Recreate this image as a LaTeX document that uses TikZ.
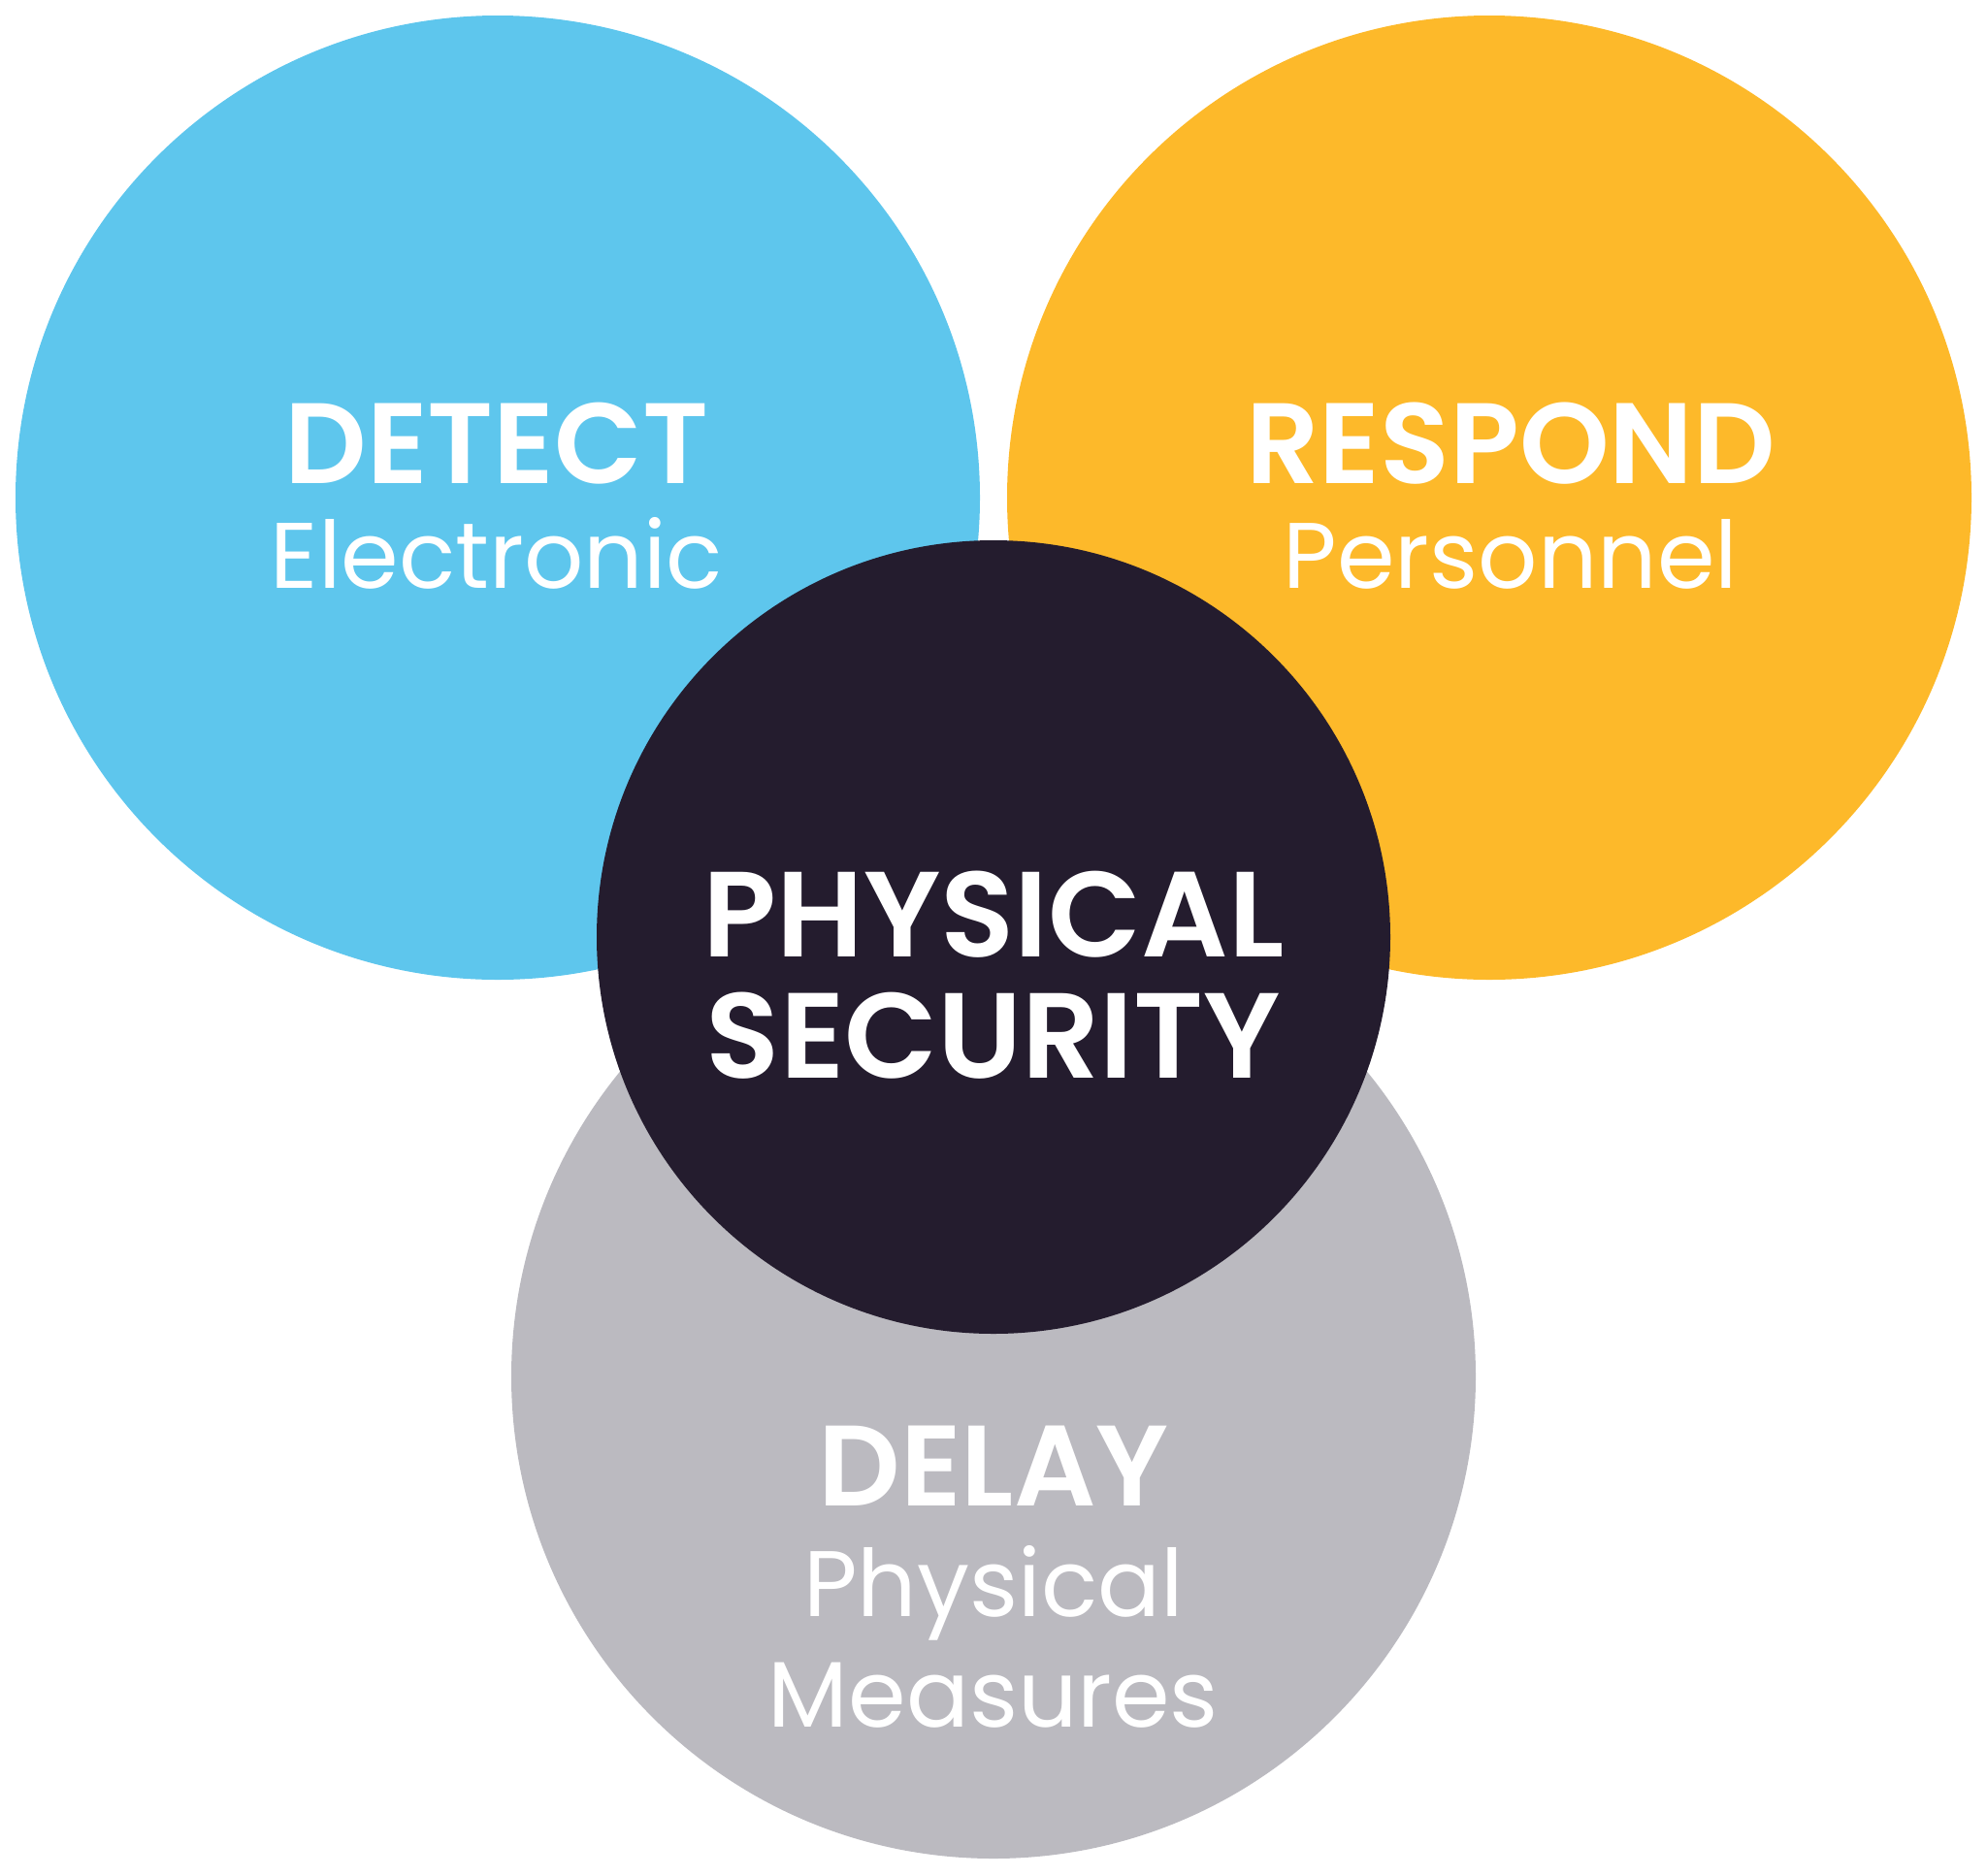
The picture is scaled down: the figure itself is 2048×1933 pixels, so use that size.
\documentclass[tikz,border=0pt]{standalone}
\usepackage{fontspec}
\setmainfont{Poppins}
\newfontfamily\popsemi{Poppins SemiBold}
\definecolor{cblue}{HTML}{5EC6ED}
\definecolor{corange}{HTML}{FDB92A}
\definecolor{cgray}{HTML}{BBBAC0}
\definecolor{cdark}{HTML}{241C2E}
\begin{document}
\begin{tikzpicture}[x=1pt,y=-1pt,
  disc/.style={circle,inner sep=0pt,minimum size=#1},
  title/.style={text=white,inner sep=0pt,anchor=base,font=\fontsize{118}{118}\popsemi},
  sub/.style={text=white,inner sep=0pt,anchor=base,font=\fontsize{96}{96}\selectfont},
  center/.style={text=white,inner sep=0pt,anchor=base,font=\fontsize{125}{125}\popsemi}]
\useasboundingbox (0,0) rectangle (2048,1933);
\node[disc=994pt,fill=cblue] (detect) at (513,513) {};
\node[disc=994pt,fill=corange] (respond) at (1535,513) {};
\node[disc=994pt,fill=cgray] (delay) at (1024,1419) {};
\node[disc=818pt,fill=cdark] (phys) at (1024,966) {};
\node[title] (t1) at (512,498) {DETECT};
\node[sub] (s1) at (512,606) {Electronic};
\node[title] (t2) at (1557,498) {RESPOND};
\node[sub] (s2) at (1557,606) {Personnel};
\node[center] (c1) at (1024,986) {PHYSICAL};
\node[center] (c2) at (1024,1111) {SECURITY};
\node[title] (t3) at (1024,1552) {DELAY};
\node[sub] (s3) at (1024,1666) {Physical};
\node[sub] (s4) at (1024,1780) {Measures};
\end{tikzpicture}
\end{document}
